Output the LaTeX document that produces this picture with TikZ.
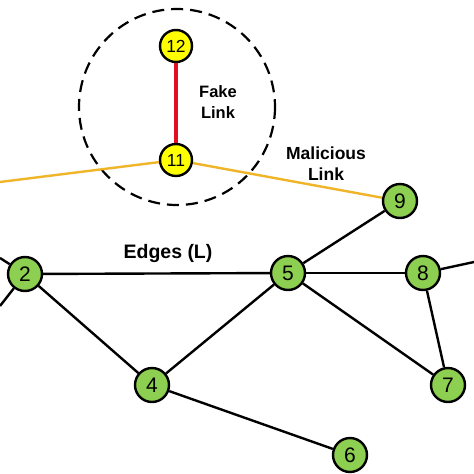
\documentclass[tikz,border=0pt]{standalone}
\usepackage{fontspec}
\setmainfont{Liberation Sans}
\begin{document}
\begin{tikzpicture}[x=1pt,y=-1pt,
  gnode/.style={circle,draw=black,line width=2.4pt,fill=ngreen,minimum size=34pt,inner sep=0pt,font=\fontsize{21}{21}\selectfont},
  ynode/.style={circle,draw=black,line width=2.4pt,fill=nyellow,minimum size=32pt,inner sep=0pt,font=\fontsize{17.5}{17.5}\selectfont},
  edge/.style={draw=black,line width=2.4pt},
  mal/.style={draw=morange,line width=2.4pt},
  fake/.style={draw=fred,line width=4pt},
  lbl/.style={font=\bfseries\fontsize{16.5}{21}\selectfont,align=center,inner sep=0pt}]
\definecolor{ngreen}{HTML}{8DCF50}
\definecolor{nyellow}{HTML}{FFFF00}
\definecolor{morange}{HTML}{F0B428}
\definecolor{fred}{HTML}{E01020}
\useasboundingbox (0,0) rectangle (474,474);
\fill[white] (0,0) rectangle (474,474);
% dashed circle
\draw[line width=2.2pt,dash pattern=on 12pt off 7pt] (177,107) circle[radius=98];
% coordinates
\coordinate (l11) at (0,182);
\coordinate (l2a) at (0,258);
\coordinate (l2b) at (0,306);
\coordinate (r8) at (474,262);
% nodes
\node[ynode] (n12) at (176,46) {12};
\node[ynode] (n11) at (176,160) {11};
\node[gnode] (n9) at (400,201) {9};
\node[gnode] (n5) at (288,273) {5};
\node[gnode] (n8) at (423,273) {8};
\node[gnode] (n2) at (25,274) {2};
\node[gnode] (n4) at (152,385) {4};
\node[gnode] (n7) at (448,385) {7};
\node[gnode] (n6) at (350,455) {6};
% edges
\path[fake] (n12) -- (n11);
\path[mal] (n11) -- (l11);
\path[mal] (n11) -- (n9);
\path[edge] (n2) -- (n5);
\path[edge] (n2) -- (n4);
\path[edge] (n2) -- (l2a);
\path[edge] (n2) -- (l2b);
\path[edge] (n4) -- (n5);
\path[edge] (n4) -- (n6);
\path[edge] (n5) -- (n9);
\path[edge] (n5) -- (n8);
\path[edge] (n5) -- (n7);
\path[edge] (n8) -- (n7);
\path[edge] (n8) -- (r8);
% labels
\node[lbl] (tfake) at (218,102) {Fake\\Link};
\node[lbl,font=\bfseries\fontsize{17.5}{21}\selectfont] (tmal) at (326,164) {Malicious\\Link};
\node[lbl,font=\bfseries\fontsize{19.5}{21}\selectfont] (tedge) at (168,253) {Edges (L)};
\end{tikzpicture}
\end{document}
